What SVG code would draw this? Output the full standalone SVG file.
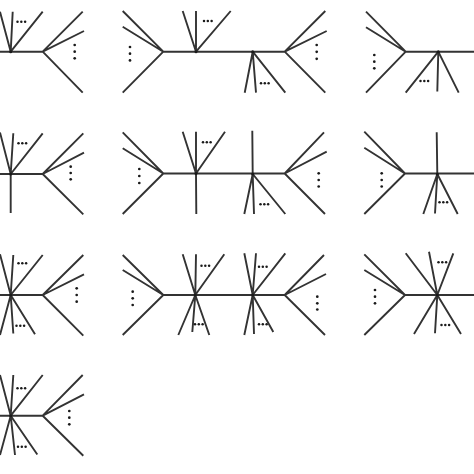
<svg xmlns="http://www.w3.org/2000/svg" width="474" height="474" viewBox="0 0 474 474">
<style>
  .e { stroke: #333; stroke-width: 1.9; fill: none; stroke-linecap: butt; }
  .d { fill: #1a1a1a; }
  .n { fill: #1a1a1a; }
</style>
<rect width="474" height="474" fill="#fff"/>
<g id="connectors">
  <g id="p1-edges">
    <path class="e" d="M0,51.7H42.7 M10.7,51.7L0,11.7 M10.7,51.7L12.7,11.7 M10.7,51.7L42.7,11.7 M42.7,51.7L82.7,11.7 M42.7,51.7L84,31 M42.7,51.7L82.7,92.7"/>
  </g>
  <g id="p2-edges">
    <path class="e" d="M163.3,51.7H284.7 M163.3,51.7L122.7,11 M163.3,51.7L122.7,26.7 M163.3,51.7L122.7,92.7 M196,51.7L182.7,11 M196,51.7L196,11 M196,51.7L230.7,11 M252.7,51.7L244.7,92.7 M252.7,51.7L256,92.7 M252.7,51.7L285.3,92.7 M284.7,51.7L325.3,11 M284.7,51.7L326.7,31 M284.7,51.7L325.3,92.7"/>
  </g>
  <g id="p3-edges">
    <path class="e" d="M405.7,51.7H474 M405.7,51.7L366,11.7 M405.7,51.7L366,27.3 M405.7,51.7L366,92.7 M438.3,51.7L405.7,92.7 M438.3,51.7L437.3,91.5 M438.3,51.7L458.7,92.7"/>
  </g>
  <g id="p4-edges">
    <path class="e" d="M0,174H42.7 M10.7,174L0,132.5 M10.7,174L13.3,133.3 M10.7,174L42.7,133.3 M10.7,174L10.7,213 M42.7,174L83.3,133.3 M42.7,174L84,152.7 M42.7,174L83.3,214.3"/>
  </g>
  <g id="p5-edges">
    <path class="e" d="M163.3,173.5H284.7 M163.3,173.5L122.7,132.3 M163.3,173.5L122.7,148.3 M163.3,173.5L122.7,214 M196,173.5L182.7,131.7 M196,173.5L196,131.7 M196,173.5L225,131.7 M196,173.5L196.3,214 M252.7,174L252.3,130.7 M252.7,174L244.3,214 M252.7,174L254,214 M252.7,174L285.3,214 M284.7,173.5L324,132.3 M284.7,173.5L326.7,151.7 M284.7,173.5L325,214"/>
  </g>
  <g id="p6-edges">
    <path class="e" d="M405,173.5H474 M405,173.5L364.3,131.7 M405,173.5L364.3,147.7 M405,173.5L364.3,214 M437.3,174L436.7,132.3 M437.3,174L423.3,214 M437.3,174L435,213.5 M437.3,174L457.7,214"/>
  </g>
  <g id="p7-edges">
    <path class="e" d="M0,295H42.7 M10.7,295L0,254.3 M10.7,295L13.3,255 M10.7,295L42.7,255 M10.7,295L0,335 M10.7,295L13.3,333.5 M10.7,295L35,334.3 M42.7,295L83.3,255 M42.7,295L84,274.3 M42.7,295L83.3,335.7"/>
  </g>
  <g id="p8-edges">
    <path class="e" d="M163.3,295H284.7 M163.3,295L122.7,255 M163.3,295L122.7,270 M163.3,295L122.7,335 M195.3,295L182.7,254.3 M195.3,295L196,254.3 M195.3,295L224.3,254.3 M195.3,295L178.3,335 M195.3,295L192.3,332 M195.3,295L209.3,335 M252.7,295L244.3,253.3 M252.7,295L256,253.3 M252.7,295L285.3,253.3 M252.7,295L244.3,335 M252.7,295L254,334 M252.7,295L273.3,332 M284.7,295L324,255 M284.7,295L326,274 M284.7,295L325,335"/>
  </g>
  <g id="p9-edges">
    <path class="e" d="M405,295H474 M405,295L364.3,254.3 M405,295L364.3,270 M405,295L364.3,335 M437.3,295L405.7,253.3 M437.3,295L429,251.7 M437.3,295L453.3,253.3 M437.3,295L414,334 M437.3,295L435,333.3 M437.3,295L461,334"/>
  </g>
  <g id="p10-edges">
    <path class="e" d="M0,415.7H42.7 M10.7,415.7L0,375 M10.7,415.7L13.3,375 M10.7,415.7L42.7,375 M10.7,415.7L0,455 M10.7,415.7L15,455 M10.7,415.7L37.3,454.5 M42.7,415.7L82.7,375 M42.7,415.7L84,394.3 M42.7,415.7L83.3,455.7"/>
  </g>
</g>

<g id="p1">
  <circle class="n" cx="10.7" cy="51.7" r="1.5"/>
  <circle class="d" cx="17.5" cy="21.7" r="1.25"/><circle class="d" cx="21.3" cy="21.7" r="1.25"/><circle class="d" cx="25.1" cy="21.7" r="1.25"/>
  <circle class="d" cx="74.7" cy="45" r="1.35"/><circle class="d" cx="74.7" cy="51.7" r="1.35"/><circle class="d" cx="74.7" cy="58.3" r="1.35"/>
</g>
<g id="p2">
  <circle class="n" cx="196" cy="51.7" r="1.5"/>
  <circle class="n" cx="252.7" cy="51.7" r="1.5"/>
  <circle class="d" cx="130" cy="47" r="1.35"/><circle class="d" cx="130" cy="53.7" r="1.35"/><circle class="d" cx="130" cy="60.4" r="1.35"/>
  <circle class="d" cx="204" cy="21" r="1.25"/><circle class="d" cx="207.8" cy="21" r="1.25"/><circle class="d" cx="211.6" cy="21" r="1.25"/>
  <circle class="d" cx="261" cy="83.3" r="1.25"/><circle class="d" cx="264.8" cy="83.3" r="1.25"/><circle class="d" cx="268.6" cy="83.3" r="1.25"/>
  <circle class="d" cx="316.7" cy="45" r="1.35"/><circle class="d" cx="316.7" cy="51.8" r="1.35"/><circle class="d" cx="316.7" cy="58.8" r="1.35"/>
</g>
<g id="p3">
  <circle class="n" cx="438.3" cy="51.7" r="1.5"/>
  <circle class="d" cx="374.3" cy="55" r="1.35"/><circle class="d" cx="374.3" cy="61.7" r="1.35"/><circle class="d" cx="374.3" cy="68.3" r="1.35"/>
  <circle class="d" cx="420.5" cy="81" r="1.25"/><circle class="d" cx="424.3" cy="81" r="1.25"/><circle class="d" cx="428.1" cy="81" r="1.25"/>
</g>
<g id="p4">
  <circle class="n" cx="10.7" cy="174" r="1.5"/>
  <circle class="d" cx="18.5" cy="143.3" r="1.25"/><circle class="d" cx="22.3" cy="143.3" r="1.25"/><circle class="d" cx="26.1" cy="143.3" r="1.25"/>
  <circle class="d" cx="70.7" cy="166.7" r="1.35"/><circle class="d" cx="70.7" cy="173" r="1.35"/><circle class="d" cx="70.7" cy="179.3" r="1.35"/>
</g>
<g id="p5">
  <circle class="n" cx="196" cy="173.5" r="1.5"/>
  <circle class="n" cx="252.7" cy="174" r="1.5"/>
  <circle class="d" cx="139.3" cy="169" r="1.35"/><circle class="d" cx="139.3" cy="176" r="1.35"/><circle class="d" cx="139.3" cy="183" r="1.35"/>
  <circle class="d" cx="203" cy="142.3" r="1.25"/><circle class="d" cx="206.8" cy="142.3" r="1.25"/><circle class="d" cx="210.6" cy="142.3" r="1.25"/>
  <circle class="d" cx="260.5" cy="204.3" r="1.25"/><circle class="d" cx="264.3" cy="204.3" r="1.25"/><circle class="d" cx="268.1" cy="204.3" r="1.25"/>
  <circle class="d" cx="318.7" cy="173.3" r="1.35"/><circle class="d" cx="318.7" cy="180" r="1.35"/><circle class="d" cx="318.7" cy="186.5" r="1.35"/>
</g>
<g id="p6">
  <circle class="n" cx="437.3" cy="174" r="1.5"/>
  <circle class="d" cx="381.7" cy="173.3" r="1.35"/><circle class="d" cx="381.7" cy="180" r="1.35"/><circle class="d" cx="381.7" cy="186.5" r="1.35"/>
  <circle class="d" cx="439.5" cy="202.3" r="1.25"/><circle class="d" cx="443.3" cy="202.3" r="1.25"/><circle class="d" cx="447.1" cy="202.3" r="1.25"/>
</g>
<g id="p7">
  <circle class="n" cx="10.7" cy="295" r="1.5"/>
  <circle class="d" cx="18.5" cy="263.3" r="1.25"/><circle class="d" cx="22.3" cy="263.3" r="1.25"/><circle class="d" cx="26.1" cy="263.3" r="1.25"/>
  <circle class="d" cx="16.5" cy="325.7" r="1.25"/><circle class="d" cx="20.3" cy="325.7" r="1.25"/><circle class="d" cx="24.1" cy="325.7" r="1.25"/>
  <circle class="d" cx="76.7" cy="288.3" r="1.35"/><circle class="d" cx="76.7" cy="295" r="1.35"/><circle class="d" cx="76.7" cy="301.7" r="1.35"/>
</g>
<g id="p8">
  <circle class="n" cx="195.3" cy="295" r="1.5"/>
  <circle class="n" cx="252.7" cy="295" r="1.5"/>
  <circle class="d" cx="132.7" cy="291.7" r="1.35"/><circle class="d" cx="132.7" cy="298.3" r="1.35"/><circle class="d" cx="132.7" cy="305" r="1.35"/>
  <circle class="d" cx="201.5" cy="265.7" r="1.25"/><circle class="d" cx="205.3" cy="265.7" r="1.25"/><circle class="d" cx="209.1" cy="265.7" r="1.25"/>
  <circle class="d" cx="195" cy="324.3" r="1.25"/><circle class="d" cx="198.8" cy="324.3" r="1.25"/><circle class="d" cx="202.6" cy="324.3" r="1.25"/>
  <circle class="d" cx="259" cy="266.7" r="1.25"/><circle class="d" cx="262.8" cy="266.7" r="1.25"/><circle class="d" cx="266.6" cy="266.7" r="1.25"/>
  <circle class="d" cx="259" cy="324.3" r="1.25"/><circle class="d" cx="262.8" cy="324.3" r="1.25"/><circle class="d" cx="266.6" cy="324.3" r="1.25"/>
  <circle class="d" cx="317.3" cy="296.7" r="1.35"/><circle class="d" cx="317.3" cy="303.3" r="1.35"/><circle class="d" cx="317.3" cy="309.5" r="1.35"/>
</g>
<g id="p9">
  <circle class="n" cx="437.3" cy="295" r="1.5"/>
  <circle class="d" cx="375" cy="290" r="1.35"/><circle class="d" cx="375" cy="296.7" r="1.35"/><circle class="d" cx="375" cy="303.3" r="1.35"/>
  <circle class="d" cx="438.5" cy="262.3" r="1.25"/><circle class="d" cx="442.3" cy="262.3" r="1.25"/><circle class="d" cx="446.1" cy="262.3" r="1.25"/>
  <circle class="d" cx="441.5" cy="325" r="1.25"/><circle class="d" cx="445.3" cy="325" r="1.25"/><circle class="d" cx="449.1" cy="325" r="1.25"/>
</g>
<g id="p10">
  <circle class="n" cx="10.7" cy="415.7" r="1.5"/>
  <circle class="d" cx="17.5" cy="388.3" r="1.25"/><circle class="d" cx="21.3" cy="388.3" r="1.25"/><circle class="d" cx="25.1" cy="388.3" r="1.25"/>
  <circle class="d" cx="18" cy="446.7" r="1.25"/><circle class="d" cx="21.8" cy="446.7" r="1.25"/><circle class="d" cx="25.6" cy="446.7" r="1.25"/>
  <circle class="d" cx="69.3" cy="411" r="1.35"/><circle class="d" cx="69.3" cy="417.7" r="1.35"/><circle class="d" cx="69.3" cy="424.3" r="1.35"/>
</g>
</svg>
